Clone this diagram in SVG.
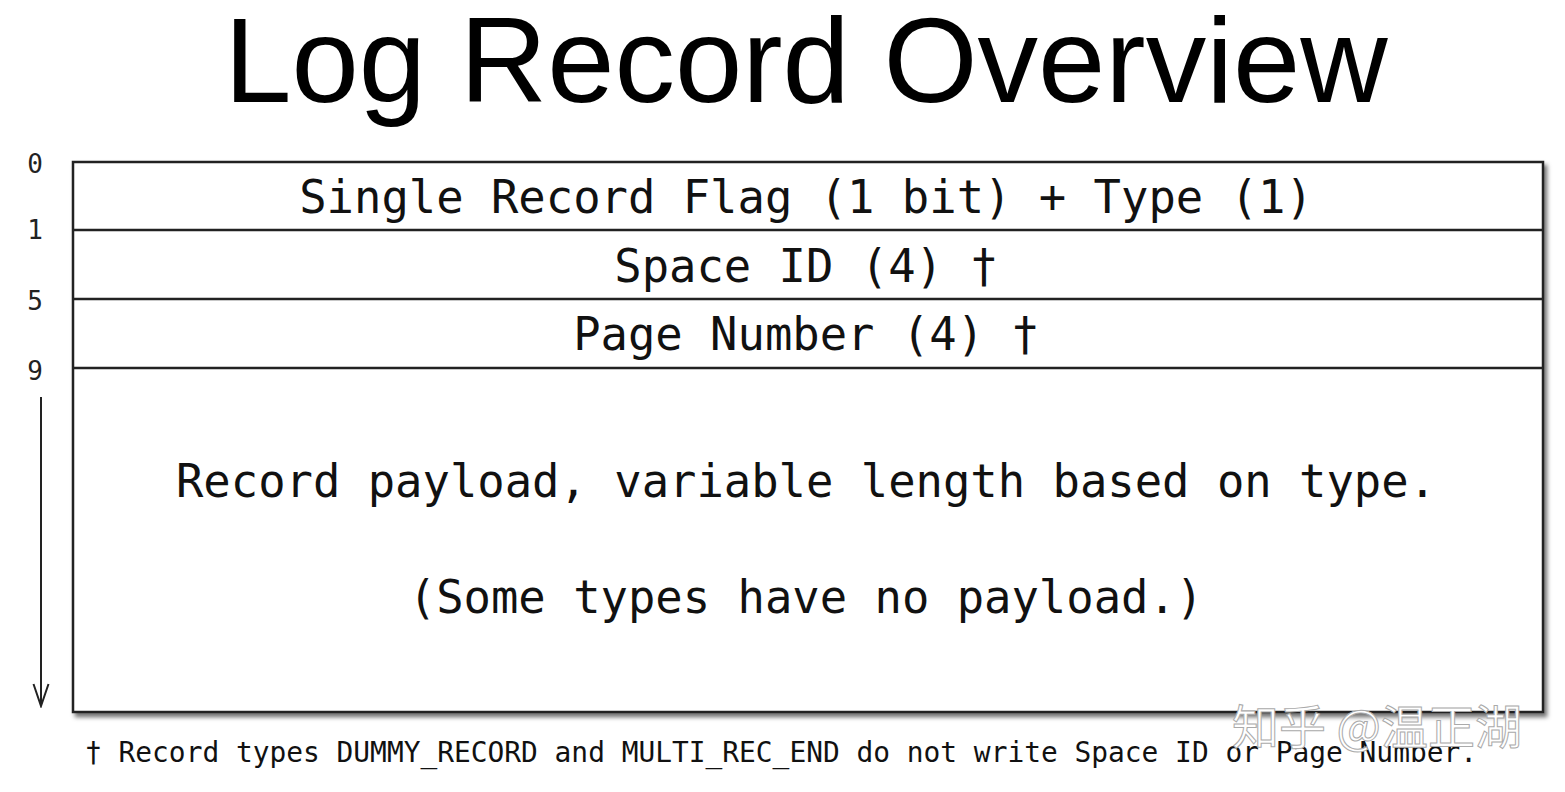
<svg xmlns="http://www.w3.org/2000/svg" width="1565" height="792" viewBox="0 0 1565 792">
<style>
.title{font-family:"Liberation Sans",Arial,sans-serif;font-size:121px;fill:#000;}
.mono{font-family:"DejaVu Sans Mono","Liberation Mono",monospace;font-size:45.5px;fill:#111;}
.idx{font-family:"DejaVu Sans Mono","Liberation Mono",monospace;font-size:26px;fill:#222;}
.foot{font-family:"DejaVu Sans Mono","Liberation Mono",monospace;font-size:28px;fill:#111;}
.wm{font-family:"Noto Sans CJK SC","Liberation Sans",sans-serif;font-size:47px;fill:#fff;stroke:#aaa;stroke-width:1;}
.sep{stroke:#222;stroke-width:2.5;}
</style>
<defs>
<filter id="sh" x="-5%" y="-5%" width="110%" height="115%">
<feDropShadow dx="3" dy="4" stdDeviation="2" flood-color="#000" flood-opacity="0.55"/>
</filter>
<marker id="open" markerWidth="26" markerHeight="18" refX="24" refY="9" orient="auto" markerUnits="userSpaceOnUse" viewBox="0 0 26 18">
<path d="M2,1.5 L24,9 L2,16.5" fill="none" stroke="#222" stroke-width="2"/>
</marker>
</defs>
<rect width="1565" height="792" fill="#fff"/>
<text class="title" x="806" y="102" text-anchor="middle">Log Record Overview</text>
<g id="record">
<rect x="73" y="162" width="1470" height="550" fill="#fff" stroke="#222" stroke-width="2.5" filter="url(#sh)"/>
</g>
<g id="connectors">
<line class="sep" x1="73" y1="230" x2="1543" y2="230"/>
<line class="sep" x1="73" y1="299" x2="1543" y2="299"/>
<line class="sep" x1="73" y1="368" x2="1543" y2="368"/>
<line x1="41" y1="397" x2="41" y2="706" stroke="#222" stroke-width="2" marker-end="url(#open)"/>
</g>
<g id="row-flag"><text class="mono" x="806" y="213" text-anchor="middle">Single Record Flag (1 bit) + Type (1)</text></g>
<g id="row-space"><text class="mono" x="806" y="282" text-anchor="middle">Space ID (4) †</text></g>
<g id="row-page"><text class="mono" x="806" y="350" text-anchor="middle">Page Number (4) †</text></g>
<g id="row-payload">
<text class="mono" x="806" y="497" text-anchor="middle">Record payload, variable length based on type.</text>
<text class="mono" x="806" y="613" text-anchor="middle">(Some types have no payload.)</text>
</g>
<g id="offsets">
<text class="idx" x="35" y="173" text-anchor="middle">0</text>
<text class="idx" x="35" y="239" text-anchor="middle">1</text>
<text class="idx" x="35" y="310" text-anchor="middle">5</text>
<text class="idx" x="35" y="380" text-anchor="middle">9</text>
</g>
<text class="foot" x="85" y="762" textLength="1392" lengthAdjust="spacingAndGlyphs">† Record types DUMMY_RECORD and MULTI_REC_END do not write Space ID or Page Number.</text>
<text class="wm" x="1232" y="744">知乎 @温正湖</text>
</svg>
